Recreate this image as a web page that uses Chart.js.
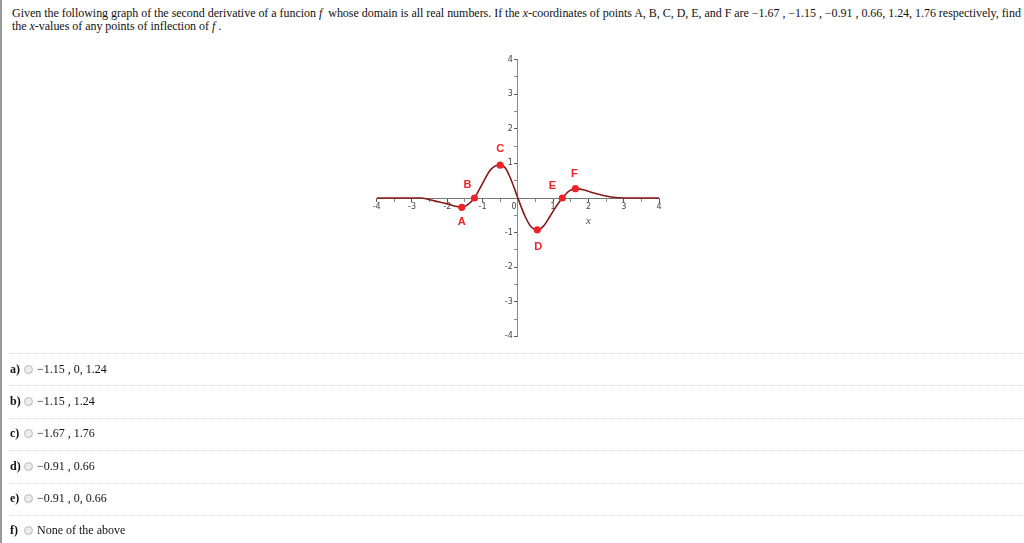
<!DOCTYPE html>
<html>
<head>
<meta charset="utf-8">
<script src="https://cdn.jsdelivr.net/npm/chart.js@4.4.1/dist/chart.umd.min.js"></script>
<style>
  html, body { margin: 0; padding: 0; background: #fff; }
  body { width: 1024px; height: 543px; overflow: hidden; position: relative; font-family: "Liberation Serif", "Times New Roman", serif; font-size: 12px; color: #111; }
  #leftbar { position: absolute; left: 0; top: 0; width: 2px; height: 543px; background: #9a9a9a; }
  #q { position: absolute; left: 12px; top: 7px; width: 1010px; line-height: 13px; white-space: nowrap; letter-spacing: -0.03px; }
  #chartWrap { position: absolute; left: 0; top: 0; width: 1024px; height: 543px; }
  .sep { position: absolute; left: 9px; right: 0; height: 0; border-top: 1px dotted #d8d8d8; }
  .opt { position: absolute; left: 10px; height: 14px; line-height: 14px; white-space: nowrap; }
  .opt b { display: inline-block; width: 14px; }
  .radio { display: inline-block; width: 7px; height: 7px; border: 1px solid #b8b8b8; border-radius: 50%; background: #ececec; vertical-align: -1px; margin: 0 4px 0 0; }
  i { font-style: italic; }
</style>
</head>
<body>
<div id="leftbar"></div>
<div id="q">Given the following graph of the second derivative of a funcion <i>f</i> &nbsp;whose domain is all real numbers. If the <i>x</i>-coordinates of points A, B, C, D, E, and F are −1.67 , −1.15 , −0.91 , 0.66, 1.24, 1.76 respectively, find<br>the <i>x</i>-values of any points of inflection of <i>f</i> .</div>
<div id="chartWrap"><canvas id="c" width="1024" height="543"></canvas></div>
<div id="opts"></div>
<script>
// ---- data ----
const curveX = [-4, -3.5, -3, -2.75, -2.5, -2.25, -2.0, -1.8, -1.59, -1.42, -1.23, -1.0, -0.8, -0.65, -0.5, -0.35, -0.2, 0, 0.2, 0.38, 0.55, 0.72, 0.9, 1.05, 1.26, 1.45, 1.63, 1.85, 2.1, 2.4, 2.7, 3.0, 3.5, 4];
const curveY = [0, 0, 0, 0, -0.05, -0.11, -0.17, -0.23, -0.27, -0.19, 0, 0.42, 0.78, 0.92, 0.95, 0.86, 0.55, 0, -0.52, -0.84, -0.92, -0.82, -0.55, -0.3, 0, 0.2, 0.27, 0.24, 0.16, 0.08, 0.02, 0, 0, 0];
const pointNames = ["A", "B", "C", "D", "E", "F"];
const pointX = [-1.59, -1.23, -0.5, 0.55, 1.26, 1.63];
const pointY = [-0.27, 0, 0.95, -0.92, 0, 0.27];
const axisMin = -4, axisMax = 4, tickStep = 0.5;
const optionLetters = ["a)", "b)", "c)", "d)", "e)", "f)"];
const optionTexts = ["−1.15 , 0, 1.24", "−1.15 , 1.24", "−1.67 , 1.76", "−0.91 , 0.66", "−0.91 , 0, 0.66", "None of the above"];

// ---- label placement (style, not data) ----
const labelOffsets = [[0, 15], [-7, -13], [0, -16], [1, 17], [-10, -12], [-1, -15]];

// options list
const optsDiv = document.getElementById('opts');
const sepTops = [353, 385, 418, 450, 483, 515];
const optTops = [362, 394, 426, 459, 491, 523];
sepTops.forEach(t => { const d = document.createElement('div'); d.className = 'sep'; d.style.top = t + 'px'; optsDiv.appendChild(d); });
optionLetters.forEach((l, i) => {
  const d = document.createElement('div'); d.className = 'opt'; d.style.top = optTops[i] + 'px';
  d.innerHTML = '<b>' + l + '</b><span class="radio"></span>' + optionTexts[i];
  optsDiv.appendChild(d);
});

const isInt = v => Math.abs(v - Math.round(v)) < 1e-9;

const labelPlugin = {
  id: 'pointLabels',
  afterDatasetsDraw(chart) {
    const ctx = chart.ctx, xs = chart.scales.x, ys = chart.scales.y;
    ctx.save();
    ctx.fillStyle = '#ee2228';
    ctx.font = 'bold 11px "Liberation Sans", Arial, sans-serif';
    ctx.textAlign = 'center'; ctx.textBaseline = 'middle';
    pointNames.forEach((n, i) => {
      ctx.fillText(n, xs.getPixelForValue(pointX[i]) + labelOffsets[i][0], ys.getPixelForValue(pointY[i]) + labelOffsets[i][1]);
    });
    ctx.fillStyle = '#444';
    ctx.font = 'italic 11px "Liberation Serif", serif';
    ctx.fillText('x', xs.getPixelForValue(2), ys.getPixelForValue(0) + 23);
    ctx.restore();
  }
};

new Chart(document.getElementById('c'), {
  data: {
    datasets: [
      {
        type: 'scatter',
        data: pointX.map((x, i) => ({ x, y: pointY[i] })),
        pointRadius: 3.6, pointBackgroundColor: '#ee2228', pointBorderWidth: 0,
        showLine: false
      },
      {
        type: 'line',
        data: curveX.map((x, i) => ({ x, y: curveY[i] })),
        borderColor: '#861818', borderWidth: 1.6, pointRadius: 0,
        cubicInterpolationMode: 'monotone', fill: false
      }
    ]
  },
  options: {
    responsive: false, animation: false, devicePixelRatio: 1,
    layout: { padding: { left: 376.7, right: 365, top: 59.6, bottom: 206.6 } },
    plugins: { legend: { display: false }, tooltip: { enabled: false } },
    scales: {
      x: {
        type: 'linear', min: axisMin, max: axisMax, position: { y: 0 },
        afterFit: s => { s.height = 0; },
        border: { display: true, color: '#777', width: 1 },
        grid: { drawOnChartArea: false, drawTicks: true, tickLength: 3, tickColor: c => isInt(c.tick.value) ? '#555' : '#888' },
        ticks: { stepSize: tickStep, autoSkip: false, maxRotation: 0, padding: 1, color: '#444', font: { family: 'DejaVu Sans', size: 8 },
          callback: v => isInt(v) ? (Math.round(v) === 0 ? '0   ' : String(Math.round(v))) : '' }
      },
      y: {
        type: 'linear', min: axisMin, max: axisMax, position: { x: 0 },
        afterFit: s => { s.width = 0; },
        border: { display: true, color: '#888', width: 1 },
        grid: { drawOnChartArea: false, drawTicks: true, tickLength: 3, tickColor: c => isInt(c.tick.value) ? '#555' : '#888' },
        ticks: { stepSize: tickStep, autoSkip: false, padding: 1, color: '#444', font: { family: 'DejaVu Sans', size: 8 },
          callback: v => (isInt(v) && Math.round(v) !== 0) ? String(Math.round(v)) + '  ' : '' }
      }
    }
  },
  plugins: [labelPlugin]
});
</script>
</body>
</html>
